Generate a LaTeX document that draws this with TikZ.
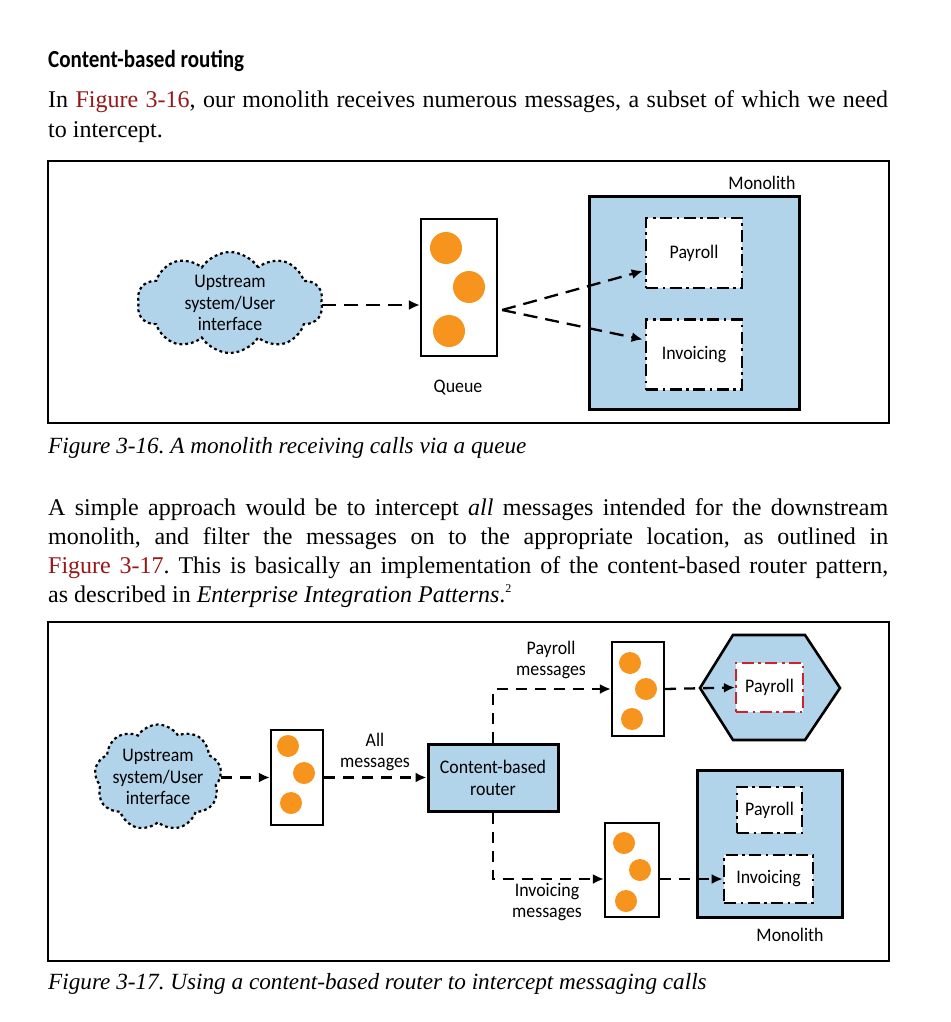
\documentclass[tikz,border=0pt]{standalone}
\usepackage{fontspec}
\setmainfont{Liberation Serif}
\newfontfamily\diafont[FakeStretch=0.93]{Carlito}
\newfontfamily\headfont[FakeStretch=0.86]{Carlito}
\usetikzlibrary{shapes.symbols,arrows.meta,calc}
\definecolor{lblue}{RGB}{178,212,235}
\definecolor{qorange}{RGB}{247,148,30}
\definecolor{linkred}{RGB}{150,24,24}
\definecolor{pred}{RGB}{205,35,45}
\tikzset{
  dia/.style={font=\diafont\fontsize{19.2}{21.8}\selectfont, align=center, inner sep=0},
  body/.style={font=\frenchspacing\fontsize{24}{29}\selectfont, anchor=base west, inner sep=0},
  capt/.style={font=\frenchspacing\itshape\fontsize{23.2}{29}\selectfont, anchor=base west, inner sep=0},
  frame/.style={draw, line width=1.4pt, inner sep=0},
  cloudbg/.style={cloud, cloud puffs=10, cloud puff arc=115, cloud ignores aspect, fill=lblue, draw, line width=2.2pt, dash pattern=on 2.8pt off 3pt, inner sep=0},
  queuebox/.style={draw, line width=2.2pt, fill=white, inner sep=0},
  qdot/.style={circle, fill=qorange, inner sep=0},
  svcbox/.style={draw, line width=2.6pt, dash pattern=on 12pt off 4.5pt on 2.6pt off 4.5pt, fill=white, dia},
  bluebox/.style={draw, line width=3pt, fill=lblue, inner sep=0},
  darr/.style={line width=2.3pt, dash pattern=on 11pt off 8pt, -{Latex[length=11pt,width=10pt]}},
}
\begin{document}
\begin{tikzpicture}[x=1pt,y=-1pt]
\useasboundingbox[fill=white] (0,0) rectangle (950,1022);

% ---------- text above ----------
\node[anchor=base west, inner sep=0, font=\headfont\bfseries\fontsize{24.5}{28}\selectfont] (head) at (48,68) {Content-based routing};
\node[body] (p1a) at (48,108) {\makebox[840pt][s]{In \textcolor{linkred}{Figure 3-16}, our monolith receives numerous messages, a subset of which we need}};
\node[body] (p1b) at (48,137) {to intercept.};

% ---------- Figure 3-16 ----------
\node[frame, minimum width=841pt, minimum height=262pt] (fig1) at (468.5,292) {};
\node[cloudbg, minimum width=186pt, minimum height=101pt] (up1) at (230,302.5) {};
\node[dia] (up1t) at (230,303) {Upstream\\system/User\\interface};

\node[queuebox, minimum width=76pt, minimum height=137pt] (q1) at (459,287.5) {};
\node[qdot, minimum size=32pt] (q1a) at (446,248) {};
\node[qdot, minimum size=32pt] (q1b) at (469,287) {};
\node[qdot, minimum size=32pt] (q1c) at (449,331) {};
\node[dia] (q1lab) at (458,388) {Queue};

\node[bluebox, minimum width=210pt, minimum height=213pt] (mono1) at (694,302.5) {};
\node[dia] (mono1lab) at (762,183) {Monolith};
\node[svcbox, minimum width=96pt, minimum height=70pt] (pay1) at (694,253) {Payroll};
\node[svcbox, minimum width=96pt, minimum height=70pt] (inv1) at (694,354.5) {Invoicing};

\draw[darr, dash pattern=on 14pt off 8pt] (up1.east |- 0,305) -- (q1.west |- 0,305);
\coordinate (q1out) at ($(q1.east)+(4,22.5)$);
\draw[darr, dash pattern=on 14pt off 8pt] (q1out) -- ($(pay1.west)+(-2,18)$);
\draw[darr, dash pattern=on 14pt off 8pt] (q1out) -- ($(inv1.west)+(-2,-15)$);

\node[capt] (cap1) at (48,453) {Figure 3-16. A monolith receiving calls via a queue};

% ---------- paragraph ----------
\node[body] (p2a) at (48,515) {\makebox[840pt][s]{A simple approach would be to intercept \textit{all} messages intended for the downstream}};
\node[body] (p2b) at (48,544) {\makebox[840pt][s]{monolith, and filter the messages on to the appropriate location, as outlined in}};
\node[body] (p2c) at (48,573) {\makebox[840pt][s]{\textcolor{linkred}{Figure 3-17}. This is basically an implementation of the content-based router pattern,}};
\node[body] (p2d) at (48,602) {as described in \textit{Enterprise Integration Patterns}.\textsuperscript{\fontsize{12}{12}\selectfont 2}};

% ---------- Figure 3-17 ----------
\node[frame, minimum width=841pt, minimum height=339pt] (fig2) at (468.5,791.5) {};
\node[cloudbg, cloud puffs=9, minimum width=127pt, minimum height=106pt] (up2) at (158,777.5) {};
\node[dia] (up2t) at (158,777) {Upstream\\system/User\\interface};

\node[queuebox, minimum width=52pt, minimum height=95pt] (q2) at (297,777.5) {};
\node[qdot, minimum size=22pt] (q2a) at (288,746) {};
\node[qdot, minimum size=22pt] (q2b) at (304,773) {};
\node[qdot, minimum size=22pt] (q2c) at (291,803) {};

\node[bluebox, dia, minimum width=130pt, minimum height=67pt] (rt) at (493,777.5) {Content-based\\router};
\node[dia] (alllab) at (375,752) {All\\messages};

\node[queuebox, minimum width=52pt, minimum height=94pt] (q3) at (638,689) {};
\node[qdot, minimum size=22pt] (q3a) at (630,663) {};
\node[qdot, minimum size=22pt] (q3b) at (646,689) {};
\node[qdot, minimum size=22pt] (q3c) at (632,719) {};
\node[dia] (paymsg) at (551,660) {Payroll\\messages};

\draw[line width=2.6pt, fill=lblue, line join=miter] (700,688) -- (733,635) -- (805,635) -- (840,688) -- (805,740) -- (733,740) -- cycle;
\node[svcbox, draw=pred, minimum width=67pt, minimum height=49pt, line width=2.3pt] (pay2) at (769.5,687.5) {Payroll};

\node[queuebox, minimum width=54pt, minimum height=94pt] (q4) at (632,870) {};
\node[qdot, minimum size=22pt] (q4a) at (624,843) {};
\node[qdot, minimum size=22pt] (q4b) at (640,870) {};
\node[qdot, minimum size=22pt] (q4c) at (626,901) {};
\node[dia] (invmsg) at (547,902) {Invoicing\\messages};

\node[bluebox, minimum width=145pt, minimum height=147pt] (mono2) at (769.5,843.5) {};
\node[svcbox, minimum width=65pt, minimum height=46pt] (pay3) at (769.5,810) {Payroll};
\node[svcbox, minimum width=89pt, minimum height=48pt] (inv2) at (768.5,879) {Invoicing};
\node[dia] (mono2lab) at (790,935) {Monolith};

\draw[darr] (up2.east |- q2.west) -- (q2.west);
\draw[darr] (q2.east) -- (rt.west);
\draw[darr] (rt.north) |- (q3.west);
\draw[darr] (rt.south) |- (q4.west |- inv2.west);
\draw[darr] (q3.east) -- (pay2.west);
\draw[darr] (q4.east |- inv2.west) -- (inv2.west);

\node[capt] (cap2) at (48,989) {Figure 3-17. Using a content-based router to intercept messaging calls};
\end{tikzpicture}
\end{document}
